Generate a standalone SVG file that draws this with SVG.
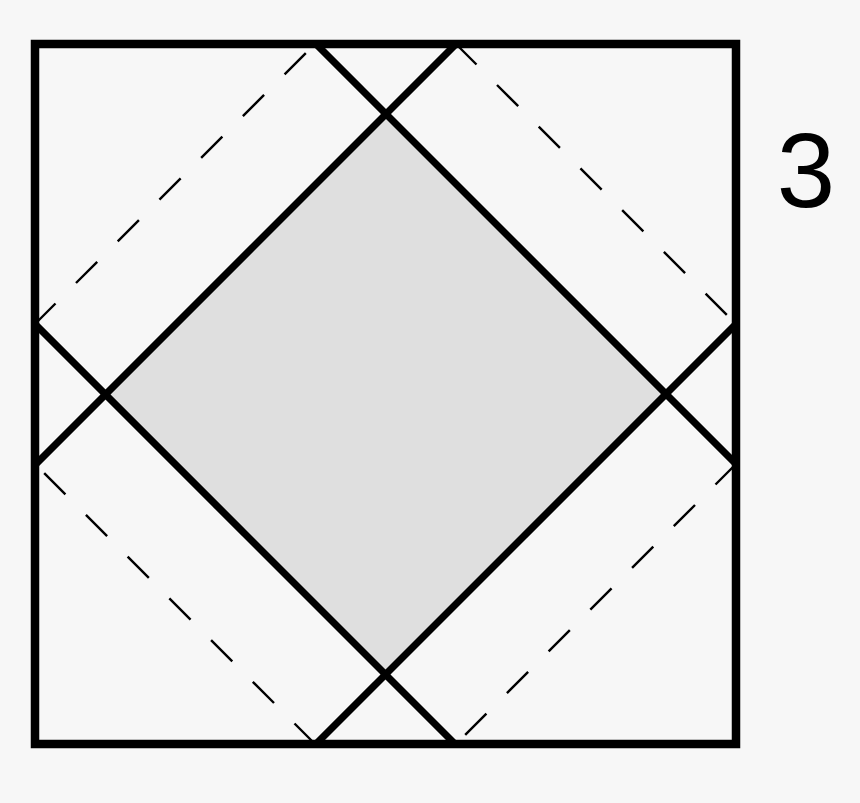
<svg xmlns="http://www.w3.org/2000/svg" width="860" height="803" viewBox="0 0 860 803">
<style>
.thick{stroke:#000;stroke-width:7.2;fill:none;stroke-linecap:butt}
.dash{stroke:#000;stroke-width:2.4;fill:none;stroke-dasharray:30 29;stroke-dashoffset:46}
.lbl{font-family:"Liberation Sans",Arial,sans-serif;font-size:105px;fill:#000}
</style>
<rect width="860" height="803" fill="#f7f7f7"/>
<g id="diamond">
<polygon points="386,114 666,394 385.5,674.5 105.5,394.5" fill="#dfdfdf"/>
</g>
<g id="dashed">
<line class="dash" x1="315" y1="44" x2="35" y2="324"/>
<line class="dash" x1="736" y1="324" x2="456" y2="44"/>
<line class="dash" x1="456" y1="744" x2="736" y2="464"/>
<line class="dash" x1="35" y1="464" x2="315" y2="744"/>
</g>
<g id="lines">
<line class="thick" x1="316" y1="44" x2="736" y2="464"/>
<line class="thick" x1="456" y1="44" x2="35" y2="465"/>
<line class="thick" x1="35" y1="324" x2="455" y2="744"/>
<line class="thick" x1="736" y1="324" x2="316" y2="744"/>
</g>
<g id="square">
<rect x="35" y="44" width="701" height="700" fill="none" stroke="#000" stroke-width="8.5" stroke-linejoin="miter"/>
</g>
<text class="lbl" x="806" y="207" text-anchor="middle">3</text>
</svg>
